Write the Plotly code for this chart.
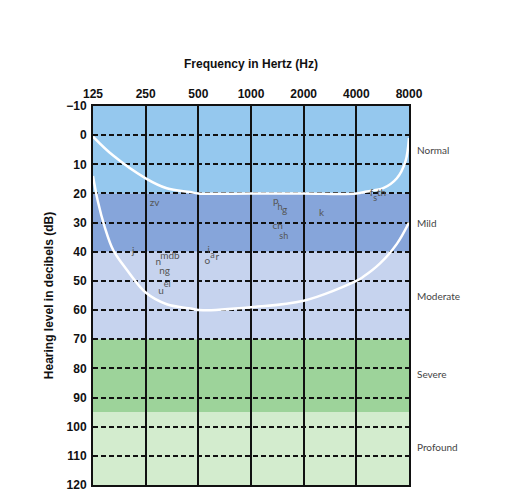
# -*- coding: utf-8 -*-
""" Audiogram with speech sounds """

import plotly.graph_objects as go

# frequency axis
freqs = [125, 250, 500, 1000, 2000, 4000, 8000]
freq_labels = ['125', '250', '500', '1000', '2000', '4000', '8000']

# hearing level axis
db_ticks = [-10, 0, 10, 20, 30, 40, 50, 60, 70, 80, 90, 100, 110, 120]

# degree of hearing loss bands
band_edges = [-10, 20, 40, 70, 95, 120]
band_names = ['Normal', 'Mild', 'Moderate', 'Severe', 'Profound']
band_label_db = [5, 30, 55, 82, 107]
band_colors = ['#95c8ee', '#86a5da', '#c6d3ee', '#9dd39a', '#d3ecce']

# upper white curve (normal threshold)
upper_hz = [125, 163, 250, 330, 448, 500, 1000, 2000, 4000, 4595, 5700, 6820, 7620, 8000]
upper_db = [0.5, 7, 14.8, 18.2, 19.5, 20, 20, 20, 20, 19.3, 18.2, 14.8, 9.2, 1]

# lower white curve (speech banana edge)
lower_hz = [125, 133, 146, 163, 194, 250, 330, 467, 500, 1000, 2000, 4000, 4378, 5464, 6820, 8000]
lower_db = [14, 22.5, 31.6, 39.4, 46, 54, 58, 59.6, 60, 59, 56.8, 50, 48.6, 44, 37.3, 30]

# speech sounds
sound_text = ['zv', 'j', 'mdb', 'n', 'ng', 'u', 'ei', 'i', 'a', 'o', 'r',
              'p', 'h', 'g', 'k', 'ch', 'sh', 'f', 's', 'th']
sound_hz = [281, 212, 344, 295, 321, 306, 332, 572, 603, 562, 642,
            1385, 1464, 1558, 2532, 1420, 1540, 4891, 5134, 5580]
sound_db = [23.3, 40, 41.5, 43.8, 46.8, 53.6, 51.2, 39.6, 41.3, 43.4, 42,
            22.8, 25.0, 25.8, 27, 31.2, 34.8, 19.9, 21.9, 19.9]

fig = go.Figure()

fig.add_trace(
    go.Scatter(
        x=upper_hz,
        y=upper_db,
        mode='lines',
        line=dict(color='white', width=2.5, shape='spline', smoothing=1.0),
        hoverinfo='skip'
    )
)

fig.add_trace(
    go.Scatter(
        x=lower_hz,
        y=lower_db,
        mode='lines',
        line=dict(color='white', width=2.5, shape='spline', smoothing=1.0),
        hoverinfo='skip'
    )
)

# subscripts / superscripts are a bit smaller
small = ['ei', 'a', 'i', 'h', 's', 'sh']
fig.add_trace(
    go.Scatter(
        x=sound_hz,
        y=sound_db,
        mode='text',
        text=sound_text,
        textfont=dict(
            family='Lato',
            size=[9 if t in small else 10 for t in sound_text],
            color='#555555'
        ),
        hoverinfo='skip'
    )
)

# coloured bands
for i in range(len(band_names)):
    fig.add_shape(
        type='rect',
        xref='paper', yref='y',
        x0=0, x1=1,
        y0=band_edges[i], y1=band_edges[i + 1],
        fillcolor=band_colors[i],
        line=dict(width=0),
        layer='below'
    )
    fig.add_annotation(
        x=1, xref='paper',
        y=band_label_db[i], yref='y',
        text=band_names[i],
        showarrow=False,
        xanchor='left',
        xshift=6,
        font=dict(family='Lato', size=10, color='#444444')
    )

# page has an 8px body margin, so the figure is a bit smaller than the window
fig.update_layout(
    width=524,
    height=496,
    margin=dict(l=85, r=123, t=98, b=12),
    paper_bgcolor='white',
    plot_bgcolor='rgba(0,0,0,0)',
    showlegend=False,
    xaxis=dict(
        type='log',
        range=[2.09691, 3.90309],
        side='top',
        tickmode='array',
        tickvals=freqs,
        ticktext=freq_labels,
        ticks='outside',
        ticklen=1,
        tickcolor='rgba(0,0,0,0)',
        tickfont=dict(family='Liberation Sans', size=12, color='#111111', weight='bold'),
        showgrid=True,
        gridcolor='#111111',
        gridwidth=2,
        showline=True,
        linecolor='#111111',
        linewidth=2,
        mirror=True,
        zeroline=False,
        title=dict(
            text='Frequency in Hertz (Hz)',
            font=dict(family='Liberation Sans', size=12, color='#111111', weight='bold'),
            standoff=16
        )
    ),
    yaxis=dict(
        range=[120, -10],
        tickmode='array',
        tickvals=db_ticks,
        ticks='outside',
        ticklen=2,
        tickcolor='rgba(0,0,0,0)',
        tickfont=dict(family='Liberation Sans', size=12, color='#111111', weight='bold'),
        showgrid=True,
        gridcolor='#111111',
        gridwidth=1.5,
        griddash='5px,3px',
        showline=True,
        linecolor='#111111',
        linewidth=2,
        mirror=True,
        zeroline=False,
        title=dict(
            text='Hearing level in decibels (dB)',
            font=dict(family='Liberation Sans', size=12, color='#111111', weight='bold'),
            standoff=10
        )
    )
)

fig.write_html("out.html")
